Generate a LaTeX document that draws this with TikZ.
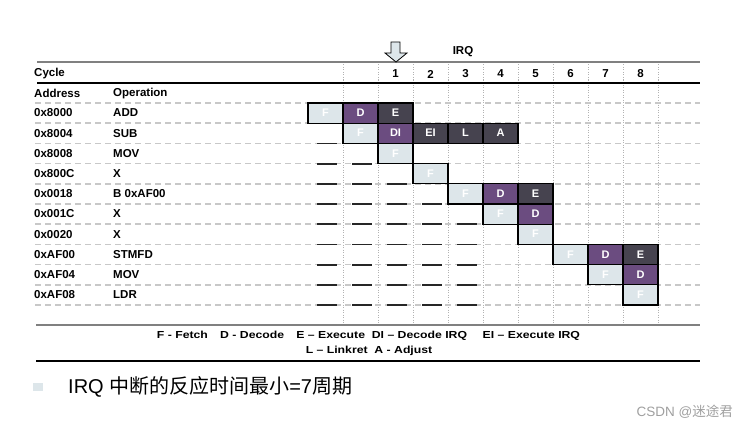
\documentclass[tikz,border=0pt]{standalone}
\usepackage{fontspec}
\setmainfont{Liberation Sans}
\newfontfamily\cjk{Noto Sans CJK SC}
\definecolor{fetchc}{HTML}{DDE6EA}
\definecolor{decodec}{HTML}{6B4C80}
\definecolor{execc}{HTML}{46434F}
\definecolor{gridc}{HTML}{C8C8C8}
\tikzset{
  txt/.style={anchor=west, inner sep=0pt, font=\fontsize{11.5}{13}\selectfont\bfseries},
  num/.style={inner sep=0pt, font=\fontsize{11.5}{13}\selectfont\bfseries},
  cell/.style={draw=black, line width=1.2pt, minimum width=35pt, minimum height=20.2pt, inner sep=0pt, text=white, font=\fontsize{11}{13}\selectfont\bfseries},
  fetch/.style={cell, fill=fetchc},
  decode/.style={cell, fill=decodec},
  exec/.style={cell, fill=execc},
  rowline/.style={gridc, line width=1.5pt, dash pattern=on 6pt off 4pt},
  colline/.style={gray!60, line width=0.6pt, dash pattern=on 1pt off 1.5pt},
  idle/.style={black!85, line width=1.8pt},
  legend/.style={inner sep=0pt, font=\fontsize{10.2}{12}\selectfont\bfseries},
}
\begin{document}
\begin{tikzpicture}[x=1pt, y=-1pt]
\useasboundingbox (0,0) rectangle (747,428);
% grid
\foreach \x in {343,378,...,658}
  \draw[colline] (\x,62) -- (\x,325);
\foreach \i in {0,...,10}
  \draw[rowline] (35,{103+20.2*\i}) -- (700,{103+20.2*\i});
\draw[gray, line width=2pt] (37,62) -- (700,62);
\draw[black, line width=1.8pt] (37,83) -- (700,83);
\draw[gray, line width=1.8pt] (36,325) -- (700,325);
\draw[black, line width=1.8pt] (36,361) -- (700,361);
% interrupt arrow
\filldraw[fill=fetchc, draw=black, line width=0.8pt] (391,42) -- (400,42) -- (400,53) -- (407,53) -- (396,62) -- (385,53) -- (391,53) -- cycle;
\node[num] (irq) at (463,52) {IRQ};
% header
\node[txt] (cycle) at (34,74) {Cycle};
\node[txt] (addr) at (34,93.5) {Address};
\node[txt] (oper) at (113,93.5) {Operation};
\node[num] (n1) at (395.5,74) {1};
\node[num] (n2) at (430.5,74) {2};
\node[num] (n3) at (465.5,74) {3};
\node[num] (n4) at (500.5,74) {4};
\node[num] (n5) at (535.5,74) {5};
\node[num] (n6) at (570.5,74) {6};
\node[num] (n7) at (605.5,74) {7};
\node[num] (n8) at (640.5,74) {8};
% instructions
\node[txt] (a0) at (34,113) {0x8000};   \node[txt] (o0) at (113,113) {ADD};
\node[txt] (a1) at (34,133.2) {0x8004}; \node[txt] (o1) at (113,133.2) {SUB};
\node[txt] (a2) at (34,153.4) {0x8008}; \node[txt] (o2) at (113,153.4) {MOV};
\node[txt] (a3) at (34,173.6) {0x800C}; \node[txt] (o3) at (113,173.6) {X};
\node[txt] (a4) at (34,193.8) {0x0018}; \node[txt] (o4) at (113,193.8) {B 0xAF00};
\node[txt] (a5) at (34,214) {0x001C};   \node[txt] (o5) at (113,214) {X};
\node[txt] (a6) at (34,234.2) {0x0020}; \node[txt] (o6) at (113,234.2) {X};
\node[txt] (a7) at (34,254.4) {0xAF00}; \node[txt] (o7) at (113,254.4) {STMFD};
\node[txt] (a8) at (34,274.6) {0xAF04}; \node[txt] (o8) at (113,274.6) {MOV};
\node[txt] (a9) at (34,294.8) {0xAF08}; \node[txt] (o9) at (113,294.8) {LDR};
% idle slots
\foreach \y/\n in {143.4/0, 163.6/1, 183.8/2, 204/3, 224.2/4, 244.4/4, 264.6/4, 284.8/4, 305/4}
  \foreach \c in {0,...,\n}
    \draw[idle] ({317+35*\c},\y) -- ++(20,0);
% pipeline stages
\node[fetch] (add_f) at (325.5,113) {F};
\node[decode] (add_d) at (360.5,113) {D};
\node[exec] (add_e) at (395.5,113) {E};
\node[fetch] (sub_f) at (360.5,133.2) {F};
\node[decode] (sub_di) at (395.5,133.2) {DI};
\node[exec] (sub_ei) at (430.5,133.2) {EI};
\node[exec] (sub_l) at (465.5,133.2) {L};
\node[exec] (sub_a) at (500.5,133.2) {A};
\node[fetch] (mov_f) at (395.5,153.4) {F};
\node[fetch] (xa_f) at (430.5,173.6) {F};
\node[fetch] (br_f) at (465.5,193.8) {F};
\node[decode] (br_d) at (500.5,193.8) {D};
\node[exec] (br_e) at (535.5,193.8) {E};
\node[fetch] (xb_f) at (500.5,214) {F};
\node[decode] (xb_d) at (535.5,214) {D};
\node[fetch] (xc_f) at (535.5,234.2) {F};
\node[fetch] (stm_f) at (570.5,254.4) {F};
\node[decode] (stm_d) at (605.5,254.4) {D};
\node[exec] (stm_e) at (640.5,254.4) {E};
\node[fetch] (movb_f) at (605.5,274.6) {F};
\node[decode] (movb_d) at (640.5,274.6) {D};
\node[fetch] (ldr_f) at (640.5,294.8) {F};
% legend
\node[legend] (leg1) at (368.5,336) {\scalebox{1.2}[1]{F - Fetch\quad D - Decode\quad E – Execute\ \ DI – Decode IRQ\quad\ EI – Execute IRQ}};
\node[legend] (leg2) at (369,351) {\scalebox{1.2}[1]{L – Linkret\ \ A - Adjust}};
% note
\fill[fetchc] (33,383) rectangle (43,391);
\node[anchor=west, inner sep=0pt, font=\fontsize{20}{23}\selectfont] (note) at (68,387) {IRQ {\cjk 中断的反应时间最小}=7{\cjk 周期}};
\node[anchor=east, inner sep=0pt, text=gray!75, font=\fontsize{13.5}{15}\selectfont] (mark) at (733,412) {CSDN @{\cjk 迷途君}};
\end{tikzpicture}
\end{document}
